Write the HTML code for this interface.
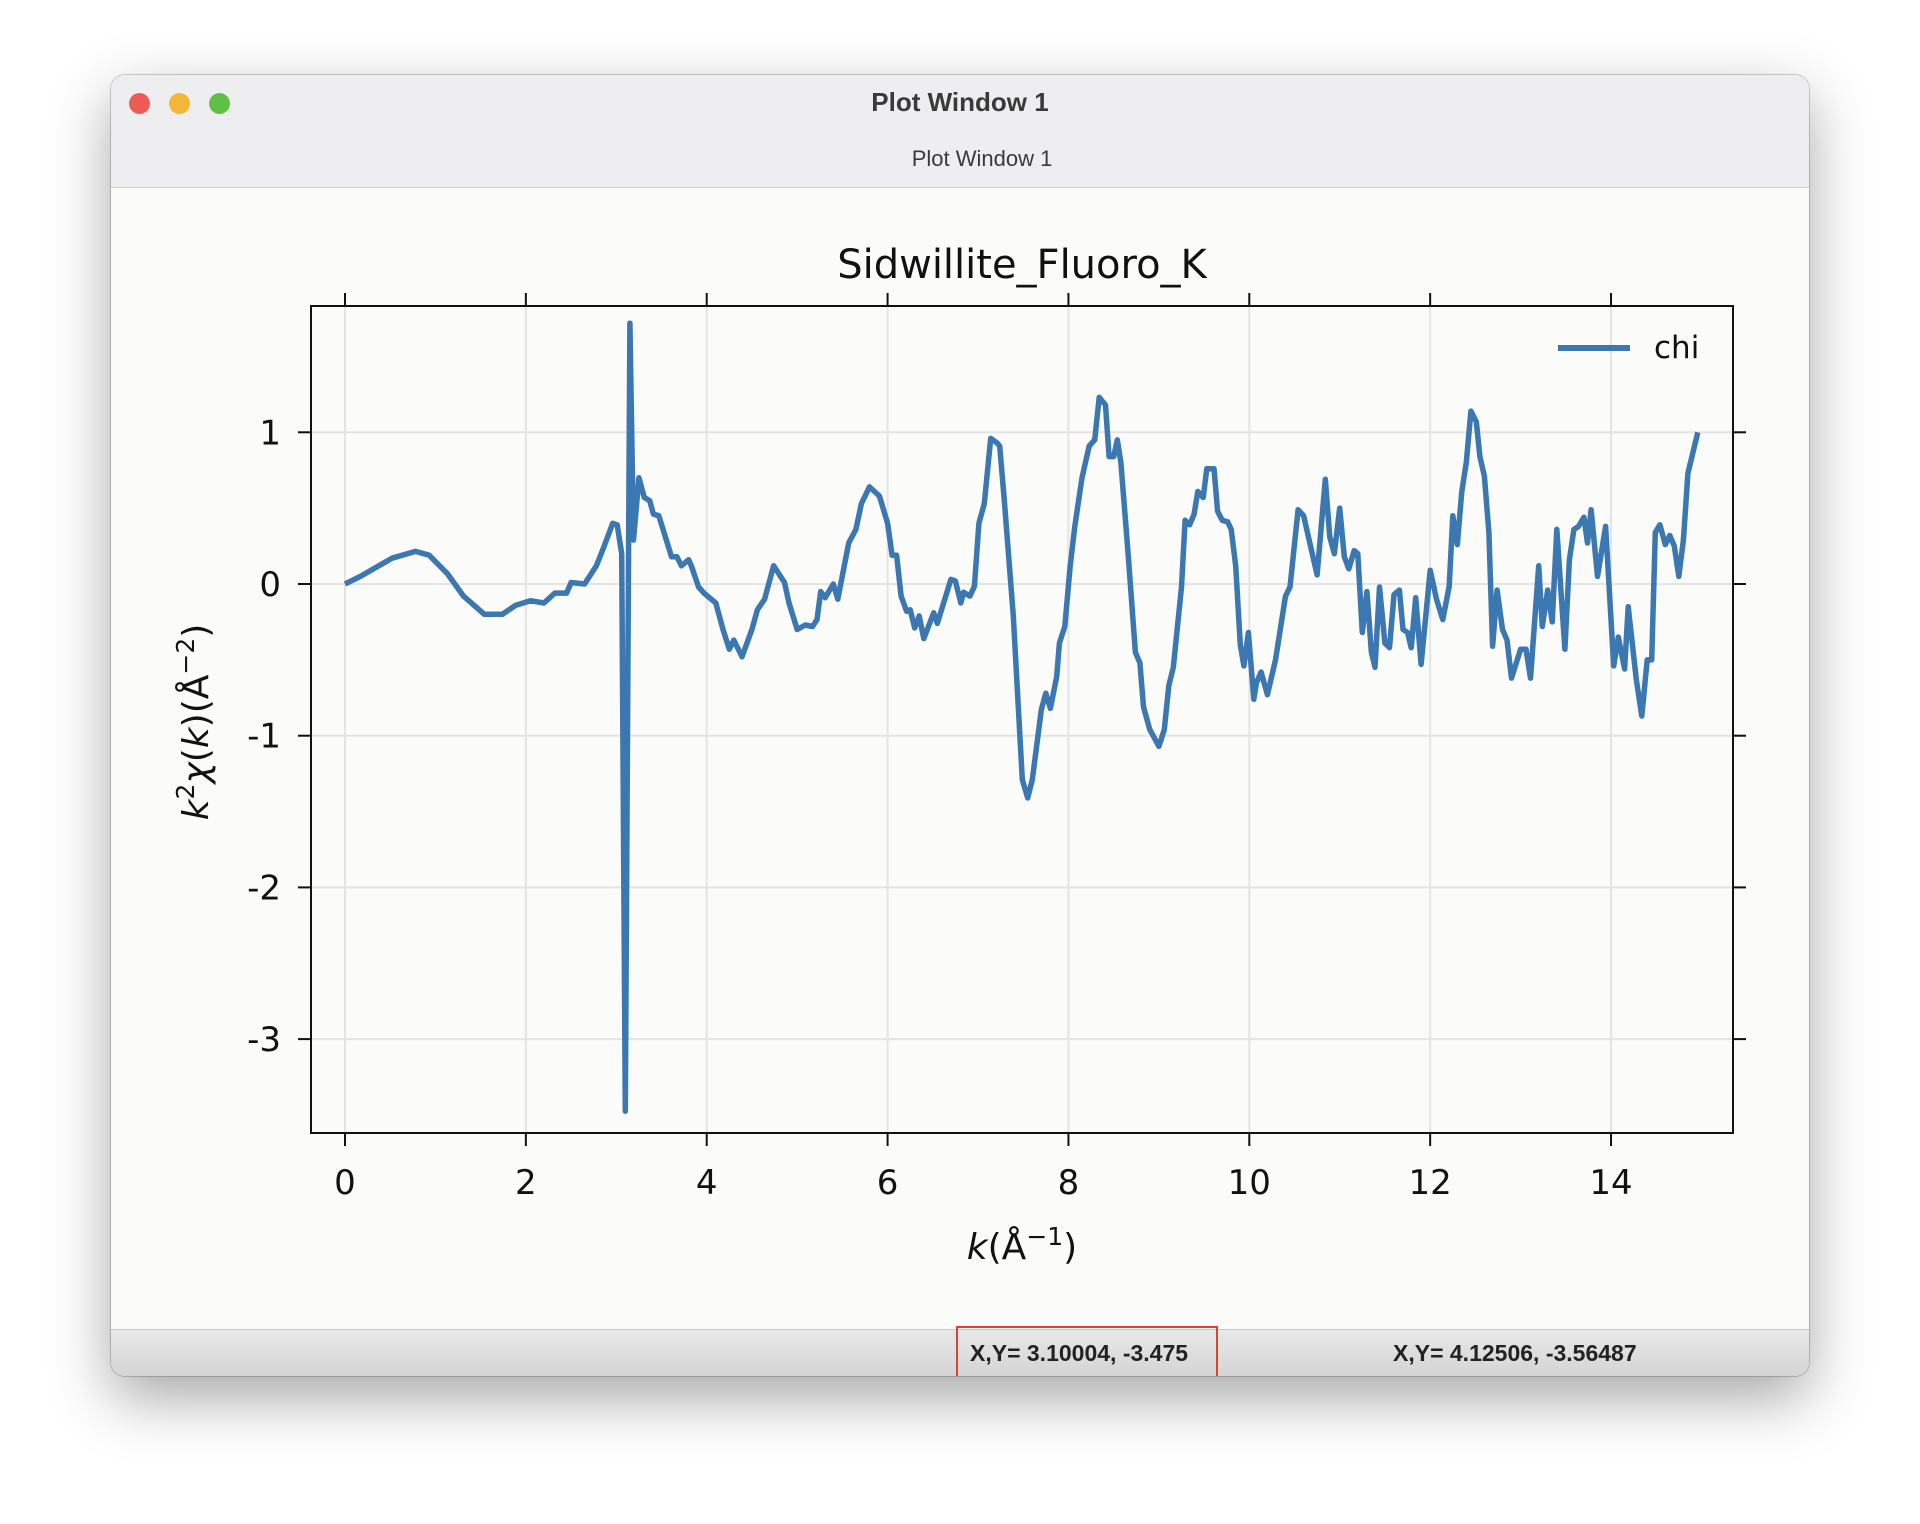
<!DOCTYPE html>
<html><head><meta charset="utf-8"><style>
html,body{margin:0;padding:0;width:1920px;height:1524px;background:#fff;overflow:hidden;font-family:"Liberation Sans",sans-serif}
#win{position:absolute;left:111px;top:75px;width:1698px;height:1301px;border-radius:14px;background:#fbfbfa;box-shadow:0 22px 60px rgba(0,0,0,0.35),0 0 0 1px rgba(0,0,0,0.18);overflow:hidden}
#titlebar{position:absolute;left:0;top:0;width:100%;height:112px;background:#eeeef0;border-bottom:1px solid #d2d2d2}
.light{position:absolute;top:18px;width:21px;height:21px;border-radius:50%}
#status{position:absolute;left:0;top:1254px;width:100%;height:47px;background:linear-gradient(#e8e8e8,#d4d4d4);border-top:1px solid #c8c8c8}
</style></head><body>
<div id="win">
 <div id="titlebar">
  <div class="light" style="left:18px;background:#ee5b52"></div>
  <div class="light" style="left:58px;background:#f3b637"></div>
  <div class="light" style="left:98px;background:#5fc144"></div>
  <div style="position:absolute;left:0;width:100%;top:12px;text-align:center;font-weight:bold;font-size:26px;color:#3a3a3a">Plot Window 1</div>
  <div style="position:absolute;left:0;width:100%;top:71px;text-align:center;font-size:22px;color:#3a3a3a;padding-left:44px;box-sizing:border-box">Plot Window 1</div>
 </div>
 <div id="status">
  <div style="position:absolute;left:845px;top:-4px;width:262px;height:52px;border:2px solid #e0412f;box-sizing:border-box"></div>
  <div style="position:absolute;left:859px;top:10px;font-size:23px;font-weight:bold;color:#222">X,Y= 3.10004, -3.475</div>
  <div style="position:absolute;left:1282px;top:10px;font-size:23px;font-weight:bold;color:#222">X,Y= 4.12506, -3.56487</div>
 </div>
</div>
<svg id="chart" width="1920" height="1524" style="position:absolute;left:0;top:0"></svg>
<script>
const xTicks=[0,2,4,6,8,10,12,14];
const yTicks=[1,0,-1,-2,-3];
const yTickLabels=["1","0","-1","-2","-3"];
const kVals=[0,0.17,0.52,0.78,0.93,1.13,1.31,1.54,1.74,1.89,2.05,2.2,2.32,2.45,2.5,2.65,2.78,2.86,2.96,3.01,3.06,3.10,3.15,3.19,3.25,3.31,3.37,3.41,3.47,3.61,3.67,3.72,3.8,3.83,3.91,3.97,4.1,4.18,4.25,4.3,4.39,4.5,4.56,4.64,4.74,4.86,4.91,5.0,5.09,5.17,5.22,5.26,5.31,5.4,5.45,5.57,5.65,5.71,5.8,5.91,6.0,6.05,6.1,6.15,6.21,6.25,6.3,6.35,6.4,6.51,6.55,6.7,6.75,6.81,6.84,6.91,6.96,7.01,7.07,7.14,7.21,7.24,7.29,7.39,7.49,7.55,7.6,7.7,7.75,7.8,7.87,7.9,7.96,8.02,8.07,8.15,8.23,8.29,8.34,8.41,8.45,8.5,8.54,8.58,8.66,8.74,8.79,8.83,8.9,9.0,9.06,9.11,9.16,9.25,9.29,9.34,9.39,9.43,9.49,9.53,9.61,9.65,9.7,9.76,9.8,9.85,9.9,9.94,9.99,10.05,10.08,10.13,10.2,10.29,10.4,10.45,10.54,10.6,10.75,10.84,10.89,10.94,11.0,11.05,11.1,11.16,11.2,11.25,11.3,11.35,11.39,11.44,11.5,11.55,11.6,11.66,11.7,11.75,11.79,11.84,11.9,12.0,12.07,12.14,12.21,12.25,12.3,12.35,12.4,12.45,12.51,12.55,12.6,12.65,12.69,12.74,12.8,12.85,12.9,13.0,13.06,13.11,13.2,13.24,13.3,13.35,13.4,13.49,13.54,13.59,13.64,13.7,13.74,13.78,13.85,13.94,14.03,14.08,14.15,14.19,14.28,14.34,14.4,14.45,14.49,14.54,14.6,14.65,14.7,14.75,14.8,14.85,14.96];
const chiVals=[0,0.05,0.17,0.215,0.19,0.07,-0.08,-0.2,-0.2,-0.14,-0.11,-0.125,-0.06,-0.06,0.01,0.0,0.12,0.24,0.4,0.39,0.2,-3.475,1.72,0.29,0.70,0.57,0.55,0.46,0.45,0.18,0.18,0.12,0.16,0.12,-0.02,-0.06,-0.125,-0.3,-0.43,-0.37,-0.48,-0.3,-0.17,-0.10,0.12,0.01,-0.125,-0.3,-0.27,-0.28,-0.235,-0.05,-0.09,0.0,-0.1,0.27,0.36,0.53,0.64,0.58,0.40,0.19,0.19,-0.08,-0.18,-0.17,-0.29,-0.21,-0.36,-0.19,-0.26,0.03,0.02,-0.125,-0.055,-0.08,-0.015,0.40,0.53,0.96,0.93,0.91,0.56,-0.21,-1.29,-1.41,-1.29,-0.83,-0.72,-0.82,-0.61,-0.39,-0.28,0.12,0.38,0.70,0.91,0.95,1.23,1.18,0.84,0.84,0.95,0.80,0.20,-0.45,-0.52,-0.81,-0.96,-1.07,-0.96,-0.67,-0.55,-0.02,0.42,0.39,0.46,0.61,0.57,0.76,0.76,0.48,0.42,0.41,0.36,0.12,-0.4,-0.54,-0.32,-0.76,-0.65,-0.58,-0.73,-0.5,-0.08,-0.02,0.49,0.45,0.06,0.69,0.31,0.20,0.50,0.18,0.10,0.22,0.20,-0.32,-0.05,-0.45,-0.55,-0.02,-0.39,-0.42,-0.07,-0.04,-0.30,-0.32,-0.42,-0.09,-0.53,0.09,-0.10,-0.235,-0.015,0.45,0.26,0.61,0.80,1.14,1.07,0.84,0.71,0.34,-0.41,-0.04,-0.30,-0.37,-0.62,-0.43,-0.43,-0.62,0.12,-0.28,-0.04,-0.25,0.36,-0.43,0.16,0.36,0.38,0.44,0.27,0.49,0.05,0.38,-0.54,-0.35,-0.56,-0.15,-0.63,-0.87,-0.50,-0.50,0.34,0.39,0.26,0.32,0.25,0.05,0.29,0.73,1.0];

const NS="http://www.w3.org/2000/svg";
const svg=document.getElementById('chart');
const L=311,R=1733,T=306,B=1133;
const X=k=>345+k*90.43;
const Y=v=>584-v*151.7;
function mk(tag,attrs,parent){const e=document.createElementNS(NS,tag);for(const a in attrs)e.setAttribute(a,attrs[a]);(parent||svg).appendChild(e);return e;}

xTicks.forEach(t=>{
 const g=mk('line',{x1:X(t),x2:X(t),y1:T,y2:B,stroke:'#e4e4e4','stroke-width':2});
 
 
});
yTicks.forEach(t=>{
 const g=mk('line',{x1:L,x2:R,y1:Y(t),y2:Y(t),stroke:'#e4e4e4','stroke-width':2});
 
 
});
const pts=kVals.map((k,i)=>X(k).toFixed(1)+','+Y(chiVals[i]).toFixed(1)).join(' ');
const line=mk('polyline',{points:pts,fill:'none',stroke:'#3b77b1','stroke-width':5.5,'stroke-linejoin':'round'});


const fr=mk('rect',{x:L,y:T,width:R-L,height:B-T,fill:'none',stroke:'#111','stroke-width':2});


xTicks.forEach(t=>{
 const a=mk('line',{x1:X(t),x2:X(t),y1:T,y2:T-13,stroke:'#111','stroke-width':2});
 
 
 const b=mk('line',{x1:X(t),x2:X(t),y1:B,y2:B+13,stroke:'#111','stroke-width':2});
 
 
 const tx=mk('text',{x:X(t),y:1194,'text-anchor':'middle','font-size':34,fill:'#111','font-family':'DejaVu Sans, Liberation Sans, sans-serif'});
 tx.textContent=String(t);
 
 
});
yTicks.forEach((t,i)=>{
 const a=mk('line',{x1:L,x2:L-13,y1:Y(t),y2:Y(t),stroke:'#111','stroke-width':2});
 
 
 const b=mk('line',{x1:R,x2:R+13,y1:Y(t),y2:Y(t),stroke:'#111','stroke-width':2});
 
 
 const tx=mk('text',{x:281,y:Y(t)+12,'text-anchor':'end','font-size':34,fill:'#111','font-family':'DejaVu Sans, Liberation Sans, sans-serif'});
 tx.textContent=yTickLabels[i];
 
 
});
</script>
<svg width="1920" height="1524" style="position:absolute;left:0;top:0;pointer-events:none">
 <text x="1022" y="278" text-anchor="middle" font-size="40" fill="#111" font-family="DejaVu Sans, Liberation Sans, sans-serif">Sidwillite_Fluoro_K</text>
 <text x="1022" y="1259" text-anchor="middle" font-size="36" fill="#111" font-family="DejaVu Sans, Liberation Sans, sans-serif"><tspan font-style="italic">k</tspan>(Å<tspan dy="-14" font-size="25">−1</tspan><tspan dy="14">)</tspan></text>
 <text transform="translate(208,722) rotate(-90)" text-anchor="middle" font-size="36" fill="#111" font-family="DejaVu Sans, Liberation Sans, sans-serif"><tspan font-style="italic">k</tspan><tspan dy="-14" font-size="25">2</tspan><tspan dy="14" font-style="italic">χ</tspan>(<tspan font-style="italic">k</tspan>)(Å<tspan dy="-14" font-size="25">−2</tspan><tspan dy="14">)</tspan></text>
 <g>
  <line x1="1558" x2="1630" y1="348" y2="348" stroke="#3b77b1" stroke-width="6"/>
  <text x="1654" y="358" font-size="31" fill="#111" font-family="DejaVu Sans, Liberation Sans, sans-serif">chi</text>
 </g>
</svg>
</body></html>
